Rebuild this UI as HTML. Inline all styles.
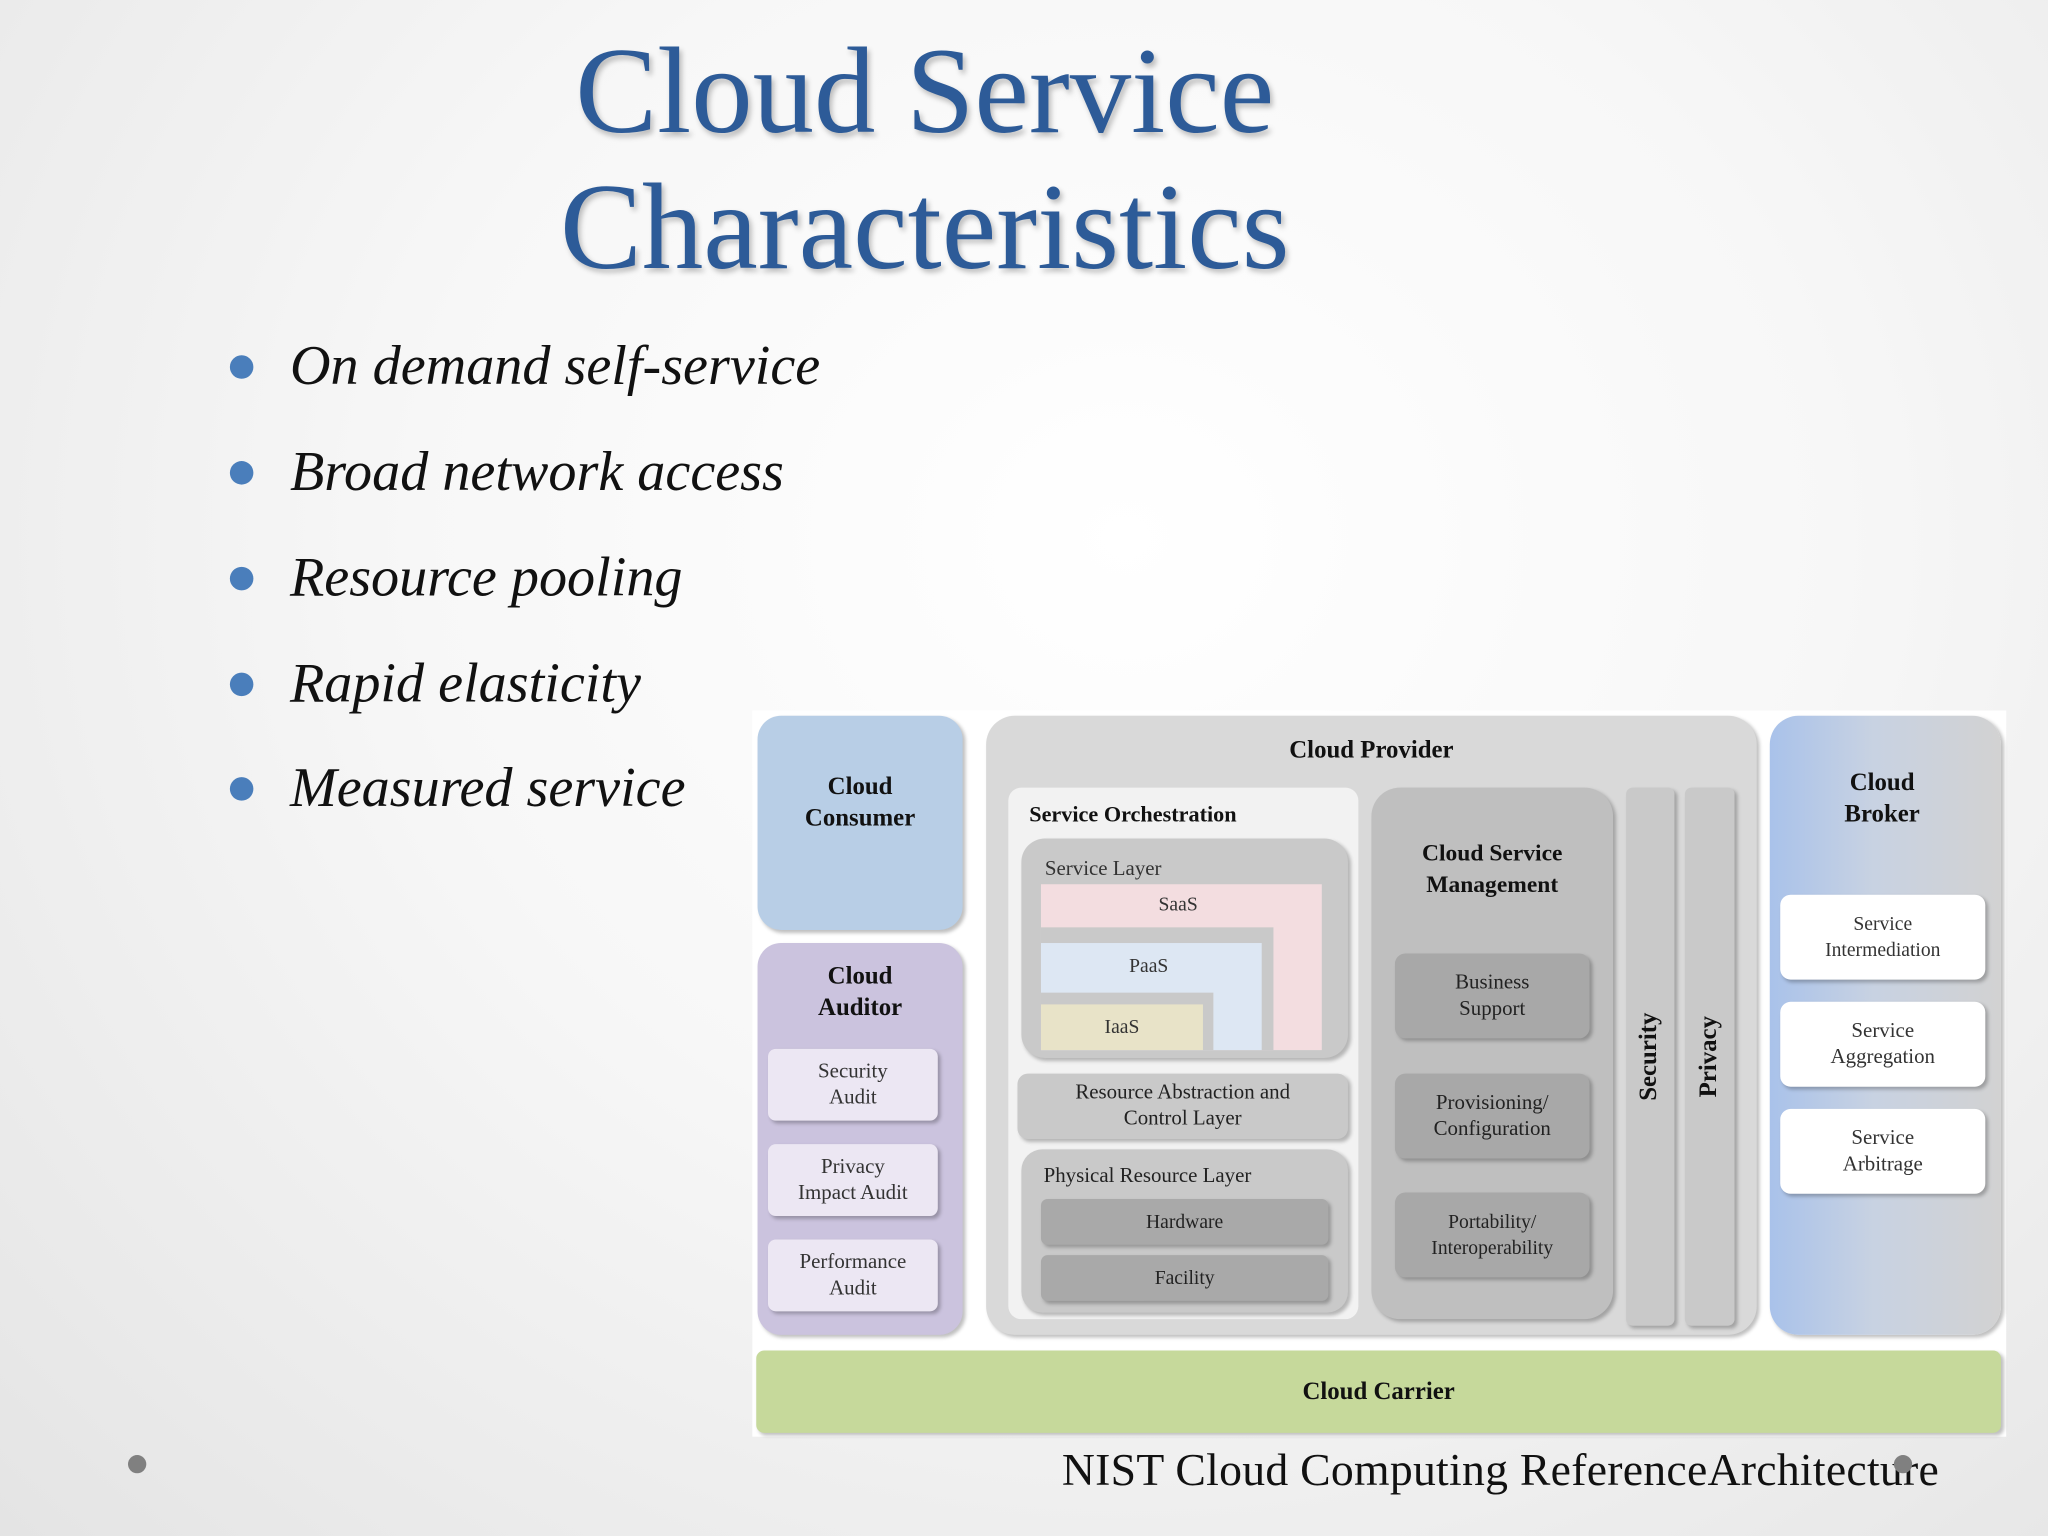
<!DOCTYPE html>
<html><head><style>
html,body{margin:0;padding:0;width:2048px;height:1536px;overflow:hidden;}
#w{position:absolute;left:0;top:0;width:1568px;height:1176px;transform:scale(1.306122);transform-origin:0 0;
background:radial-gradient(ellipse at 55% 35%,#ffffff 0%,#f7f7f7 45%,#e4e4e4 100%);font-family:"Liberation Serif",serif;}
.a{position:absolute;box-sizing:border-box;}
.t{display:flex;align-items:center;justify-content:center;text-align:center;font-family:"Liberation Sans",sans-serif;color:#222;}
.b{font-weight:bold;font-family:"Liberation Serif",serif;font-size:19px;line-height:24px;color:#111}
.s{font-family:"Liberation Serif",serif;font-size:16px;line-height:20px;color:#333}
h1{position:absolute;margin:0;left:300px;width:816px;top:18px;text-align:center;font-weight:normal;font-size:94px;line-height:104px;color:#2d5b98;text-shadow:2px 3px 4px rgba(0,0,0,0.25);}
.bl{position:absolute;left:222px;font-style:italic;font-size:43px;color:#111;}
.dot{position:absolute;left:176px;width:18px;height:18px;border-radius:50%;background:#4a7ebb;}
.sh{box-shadow:2px 2px 3px rgba(0,0,0,0.25);}
</style></head><body><div id="w">
<h1>Cloud Service<br>Characteristics</h1>
<div class="dot" style="top:272px"></div><div class="bl" style="top:256px">On demand self-service</div>
<div class="dot" style="top:353px"></div><div class="bl" style="top:337px">Broad network access</div>
<div class="dot" style="top:434px"></div><div class="bl" style="top:418px">Resource pooling</div>
<div class="dot" style="top:515px"></div><div class="bl" style="top:499px">Rapid elasticity</div>
<div class="dot" style="top:595px"></div><div class="bl" style="top:579px">Measured service</div>

<div class="a" style="left:576px;top:544px;width:960px;height:556px;background:#fff"></div>
<div class="a t b sh" style="left:580px;top:548px;width:157px;height:164px;background:#b8cee6;border-radius:18px;padding-bottom:30px">Cloud<br>Consumer</div>
<div class="a sh" style="left:580px;top:722px;width:157px;height:300px;background:#cbc3de;border-radius:18px"></div>
<div class="a t b" style="left:580px;top:735px;width:157px;height:50px">Cloud<br>Auditor</div>
<div class="a t s sh" style="left:588px;top:803px;width:130px;height:55px;background:#ece7f3;border-radius:6px">Security<br>Audit</div>
<div class="a t s sh" style="left:588px;top:876px;width:130px;height:55px;background:#ece7f3;border-radius:6px">Privacy<br>Impact Audit</div>
<div class="a t s sh" style="left:588px;top:949px;width:130px;height:55px;background:#ece7f3;border-radius:6px">Performance<br>Audit</div>

<div class="a sh" style="left:755px;top:548px;width:590px;height:474px;background:#d9d9d9;border-radius:22px"></div>
<div class="a t b" style="left:755px;top:562px;width:590px;height:26px">Cloud Provider</div>
<div class="a" style="left:772px;top:603px;width:268px;height:407px;background:#f2f2f2;border-radius:10px"></div>
<div class="a b" style="left:788px;top:612px;font-size:17px">Service Orchestration</div>
<div class="a sh" style="left:782px;top:642px;width:250px;height:168px;background:#c9c9c9;border-radius:18px"></div>
<div class="a s" style="left:800px;top:656px;">Service Layer</div>
<div class="a" style="left:797px;top:677px;width:215px;height:127px;background:#f3dde0"></div>
<div class="a t s" style="left:797px;top:680px;width:210px;height:26px;font-size:15px">SaaS</div>
<div class="a" style="left:797px;top:710px;width:178px;height:94px;background:#c9c9c9"></div>
<div class="a" style="left:797px;top:722px;width:169px;height:82px;background:#dde7f3"></div>
<div class="a t s" style="left:797px;top:727px;width:165px;height:26px;font-size:15px">PaaS</div>
<div class="a" style="left:797px;top:760px;width:132px;height:44px;background:#c9c9c9"></div>
<div class="a t s" style="left:797px;top:769px;width:124px;height:35px;background:#e8e3c8;font-size:15px">IaaS</div>
<div class="a t s sh" style="left:779px;top:822px;width:253px;height:50px;background:#c9c9c9;border-radius:8px;color:#222">Resource Abstraction and<br>Control Layer</div>
<div class="a sh" style="left:782px;top:880px;width:250px;height:125px;background:#c9c9c9;border-radius:16px"></div>
<div class="a s" style="left:799px;top:891px;color:#222">Physical Resource Layer</div>
<div class="a t s sh" style="left:797px;top:918px;width:220px;height:35px;background:#a9a9a9;border-radius:5px;font-size:15px;color:#222">Hardware</div>
<div class="a t s sh" style="left:797px;top:961px;width:220px;height:35px;background:#a9a9a9;border-radius:5px;font-size:15px;color:#222">Facility</div>

<div class="a sh" style="left:1050px;top:603px;width:185px;height:407px;background:#bfbfbf;border-radius:22px"></div>
<div class="a t b" style="left:1050px;top:640px;width:185px;height:50px;font-size:18px">Cloud Service<br>Management</div>
<div class="a t s sh" style="left:1068px;top:730px;width:149px;height:65px;background:#a8a8a8;border-radius:8px;color:#222">Business<br>Support</div>
<div class="a t s sh" style="left:1068px;top:822px;width:149px;height:65px;background:#a8a8a8;border-radius:8px;color:#222">Provisioning/<br>Configuration</div>
<div class="a t s sh" style="left:1068px;top:913px;width:149px;height:65px;background:#a8a8a8;border-radius:8px;color:#222;font-size:15px">Portability/<br>Interoperability</div>
<div class="a sh" style="left:1245px;top:603px;width:37px;height:412px;background:#c9c9c9;border-radius:5px"></div>
<div class="a sh" style="left:1290px;top:603px;width:38px;height:412px;background:#c9c9c9;border-radius:5px"></div>
<div class="a b" style="left:1213px;top:797px;width:100px;text-align:center;transform:rotate(-90deg);font-size:19px">Security</div>
<div class="a b" style="left:1259px;top:797px;width:100px;text-align:center;transform:rotate(-90deg);font-size:19px">Privacy</div>

<div class="a sh" style="left:1355px;top:548px;width:177px;height:474px;border-radius:22px;background:linear-gradient(90deg,#a9c2ea 0%,#c8d2e2 45%,#d2d2d2 100%)"></div>
<div class="a t b" style="left:1355px;top:587px;width:172px;height:50px">Cloud<br>Broker</div>
<div class="a t s sh" style="left:1363px;top:685px;width:157px;height:65px;background:#fff;border-radius:8px;font-size:15px">Service<br>Intermediation</div>
<div class="a t s sh" style="left:1363px;top:767px;width:157px;height:65px;background:#fff;border-radius:8px">Service<br>Aggregation</div>
<div class="a t s sh" style="left:1363px;top:849px;width:157px;height:65px;background:#fff;border-radius:8px">Service<br>Arbitrage</div>

<div class="a t b sh" style="left:579px;top:1034px;width:953px;height:63px;background:#c6d99b;border-radius:6px">Cloud Carrier</div>

<div class="a" style="left:813px;top:1106px;font-size:35px;letter-spacing:0.2px;color:#111;white-space:nowrap">NIST Cloud Computing ReferenceArchitecture</div>
<div class="a" style="left:98px;top:1114px;width:14px;height:14px;border-radius:50%;background:#808080"></div>
<div class="a" style="left:1450px;top:1114px;width:14px;height:14px;border-radius:50%;background:#808080"></div>
</div></body></html>
